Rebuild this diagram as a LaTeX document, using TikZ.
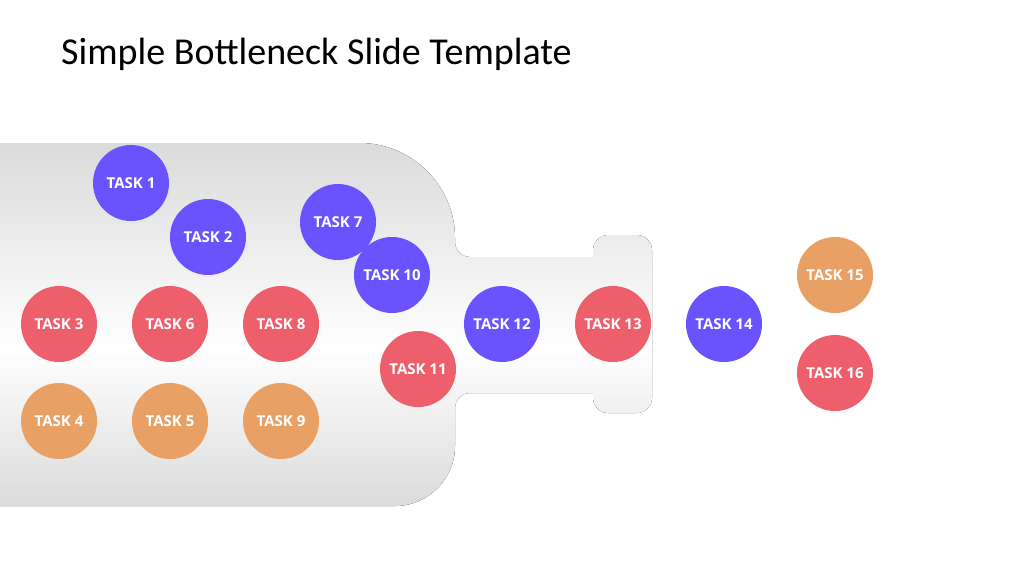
\documentclass[tikz,border=0pt]{standalone}
\usepackage{fontspec}
\setmainfont{Carlito}
\newfontfamily\taskfont{Open Sans}
\definecolor{tpurple}{HTML}{6B52FF}
\definecolor{tred}{HTML}{EE5F6C}
\definecolor{torange}{HTML}{E9A064}
\definecolor{bgray}{RGB}{218,218,218}
\begin{document}
\begin{tikzpicture}[x=1pt,y=-1pt,
  task/.style={circle,minimum size=76pt,inner sep=0pt,text=white,font=\taskfont\bfseries\fontsize{15}{17}\selectfont}]
\useasboundingbox (0,0) rectangle (1024,576);
\node[anchor=west,font=\fontsize{38}{42}\selectfont,inner sep=0pt] (title) at (61,54) {Simple Bottleneck Slide Template};
\begin{scope}
\clip (0,143) -- (360,143) .. controls (412,143) and (455,186) .. (455,238) -- (455,242)
  .. controls (455,250) and (462,257) .. (470,257) -- (593,257) -- (593,250)
  .. controls (593,242) and (600,235) .. (608,235) -- (637,235)
  .. controls (645,235) and (652,242) .. (652,250) -- (652,398)
  .. controls (652,406) and (645,413) .. (637,413) -- (608,413)
  .. controls (600,413) and (593,406) .. (593,398) -- (593,393) -- (470,393)
  .. controls (462,393) and (455,400) .. (455,408) -- (455,446)
  .. controls (455,479) and (428,506) .. (395,506) -- (0,506) -- cycle;
\fill[top color=bgray,bottom color=white] (0,140) rectangle (700,348);
\fill[top color=white,bottom color=bgray] (0,347) rectangle (700,510);
\end{scope}
\foreach \n/\x/\y/\c in {1/131/183/tpurple,2/208/237/tpurple,7/338/222/tpurple,10/392/275/tpurple,
  3/59/324/tred,6/170/324/tred,8/281/324/tred,12/502/324/tpurple,13/613/324/tred,14/724/324/tpurple,
  11/418/369/tred,4/59/421/torange,5/170/421/torange,9/281/421/torange,15/835/275/torange,16/835/373/tred}
  \node[task,fill=\c] (t\n) at (\x,\y) {TASK \n};
\end{tikzpicture}
\end{document}
